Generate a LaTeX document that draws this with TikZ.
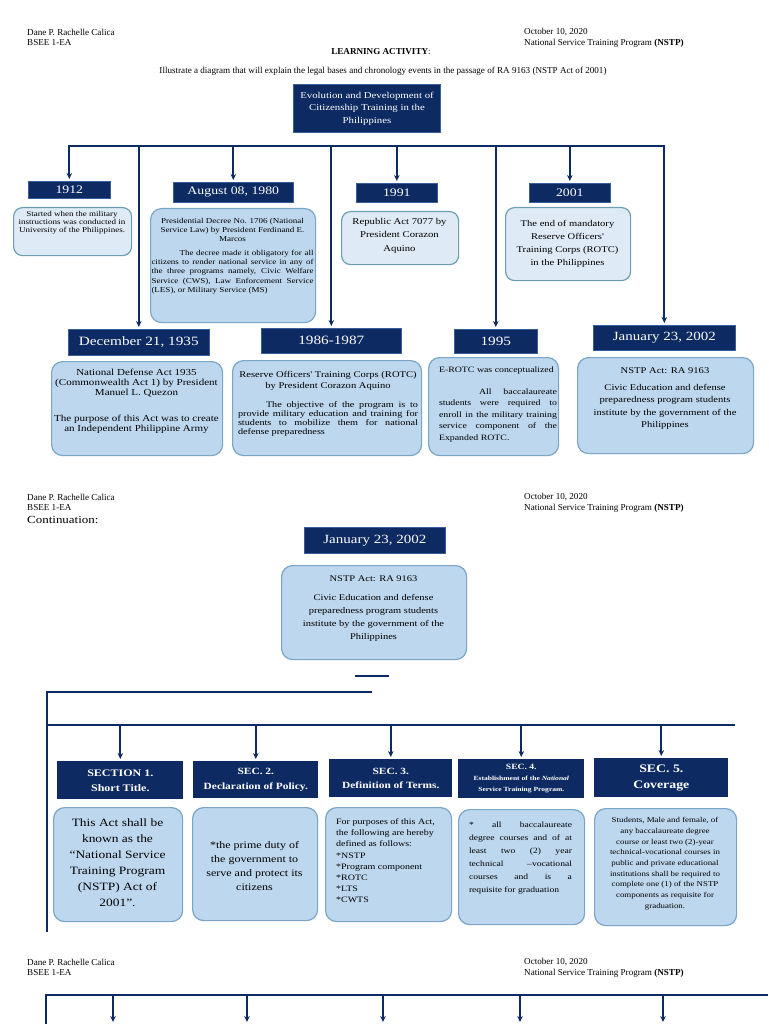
\documentclass[tikz,border=0pt]{standalone}
\usepackage{fontspec}
\setmainfont{Liberation Serif}
\newfontfamily\wide{Liberation Serif}[FakeStretch=1.2]
\usetikzlibrary{arrows.meta,calc}
\definecolor{navy}{HTML}{0E2A62}
\definecolor{navyb}{HTML}{3A5D9C}
\definecolor{fillA}{HTML}{BDD7EE}
\definecolor{fillB}{HTML}{DEEAF6}
\definecolor{bordA}{HTML}{7AA5C6}
\definecolor{bordB}{HTML}{6C9FB3}
\newcommand{\wfs}[2]{\wide\fontsize{#1}{#2}\selectfont}
\newcommand{\hfs}{\fontsize{9.1}{11}\selectfont}
\newcommand{\jline}[2]{\makebox[#1][s]{#2}}
\newcommand{\lline}[2]{\makebox[#1][l]{#2}}
\tikzset{
 lbl/.style={rectangle, fill=navy, draw=navyb, line width=0.6pt, text=white, inner sep=0pt, anchor=north west, align=center},
 boxA/.style={rectangle, rounded corners=11pt, fill=fillA, draw=bordA, line width=1.2pt, anchor=north west, inner sep=0pt},
 boxB/.style={rectangle, rounded corners=9pt, fill=fillB, draw=bordB, line width=1.2pt, anchor=north west, inner sep=0pt},
 txt/.style={inner sep=0pt, text=black, align=center},
 conn/.style={draw=navy, line width=1.8pt},
 arr/.style={conn, -{Stealth[length=6pt,width=5.5pt]}, shorten >=2pt},
 hdr/.style={inner sep=0pt, anchor=west, font=\hfs},
}
\begin{document}
\begin{tikzpicture}[x=1pt,y=-1pt]
\useasboundingbox (0,0) rectangle (768,1024);
\fill[white] (0,0) rectangle (768,1024);

% ---------------- page 1 ----------------
\node[hdr] (h1a) at (27,32) {Dane P. Rachelle Calica};
\node[hdr] (h1b) at (27,43) {BSEE 1-EA};
\node[hdr] (h1c) at (524,32) {October 10, 2020};
\node[hdr] (h1d) at (524,43) {National Service Training Program \textbf{(NSTP)}};
\node[inner sep=0pt, font=\hfs] (la) at (381,52) {\textbf{LEARNING ACTIVITY}:};
\node[inner sep=0pt, font=\hfs] (ill) at (383,71) {Illustrate a diagram that will explain the legal bases and chronology events in the passage of RA 9163 (NSTP Act of 2001)};

\node[lbl, line width=1pt, minimum width=147pt, minimum height=48pt, font=\wfs{9}{12.5}] (title) at (293,84) {Evolution and Development of\\Citizenship Training in the\\Philippines};

% labels row 1
\node[lbl, minimum width=82pt, minimum height=17pt, font=\wfs{11.5}{13}] (l1912) at (28,181) {1912};
\node[lbl, minimum width=120pt, minimum height=20pt, font=\wfs{11.5}{13}] (lAug) at (173,182) {August 08, 1980};
\node[lbl, minimum width=81pt, minimum height=19pt, font=\wfs{11.5}{13}] (l1991) at (356,183) {1991};
\node[lbl, minimum width=81pt, minimum height=19pt, font=\wfs{11.5}{13}] (l2001) at (529,183) {2001};
% labels row 2
\node[lbl, minimum width=141pt, minimum height=26pt, font=\wfs{12.7}{14}] (lDec) at (68,329) {December 21, 1935};
\node[lbl, minimum width=140pt, minimum height=25pt, font=\wfs{12.7}{14}] (l1986) at (261,328) {1986-1987};
\node[lbl, minimum width=83pt, minimum height=24pt, font=\wfs{12.7}{14}] (l1995) at (454,329) {1995};
\node[lbl, minimum width=142pt, minimum height=25pt, font=\wfs{12.5}{14}] (lJan) at (593,325) {January 23, 2002};

% connectors page 1
\coordinate (barL) at (68,146);
\draw[conn, {Stealth[length=6pt,width=5.5pt]}-{Stealth[length=6pt,width=5.5pt]}, shorten <=2pt, shorten >=2pt]
  (l1912.north) -- (l1912.north |- barL) -- (lJan.north |- barL) -- (lJan.north);
\draw[arr] (lAug.north |- barL) -- (lAug.north);
\draw[arr] (l1991.north |- barL) -- (l1991.north);
\draw[arr] (l2001.north |- barL) -- (l2001.north);
\draw[arr] (lDec.north |- barL) -- (lDec.north);
\draw[arr] (l1986.north |- barL) -- (l1986.north);
\draw[arr] (l1995.north |- barL) -- (l1995.north);

% content boxes row 1
\node[boxB, minimum width=118pt, minimum height=48pt] (c1912) at (13,207) {};
\node[txt, font=\wfs{7.5}{8.4}] (c1912t) at (72,222.7) {Started when the military\\instructions was conducted in\\University of the Philippines.};

\node[boxA, minimum width=165pt, minimum height=114pt] (cAug) at (150,208) {};
\node[txt, font=\wfs{7.5}{9.3}] (cAugt) at (232.5,256) {Presidential Decree No. 1706 (National\\Service Law) by President Ferdinand E.\\Marcos\\[4pt]
\jline{162pt}{\hspace*{28pt}The decree made it obligatory for all}\\
\jline{162pt}{citizens to render national service in any of}\\
\jline{162pt}{the three programs namely, Civic Welfare}\\
\jline{162pt}{Service (CWS), Law Enforcement Service}\\
\lline{162pt}{(LES), or Military Service (MS)}};

\node[boxB, minimum width=117pt, minimum height=53pt] (c1991) at (341,211) {};
\node[txt, font=\wfs{8.9}{13.3}] (c1991t) at (399.5,235.7) {Republic Act 7077 by\\President Corazon\\Aquino};

\node[boxB, minimum width=125pt, minimum height=73pt] (c2001) at (505,207) {};
\node[txt, font=\wfs{8.8}{13.1}] (c2001t) at (567.5,243.7) {The end of mandatory\\Reserve Officers'\\Training Corps (ROTC)\\in the Philippines};

% content boxes row 2
\node[boxA, minimum width=171pt, minimum height=94pt] (cDec) at (51,361) {};
\node[txt, font=\wfs{9.2}{10}] (cDect) at (136.5,401.3) {National Defense Act 1935\\(Commonwealth Act 1) by President\\Manuel L. Quezon\\[16.6pt]The purpose of this Act was to create\\an Independent Philippine Army};

\node[boxA, minimum width=189pt, minimum height=95pt] (c1986) at (232,360) {};
\node[txt, font=\wfs{8.5}{9.2}] (c1986t) at (328,403.7) {{\wfs{8.8}{9.2}Reserve Officers' Training Corps (ROTC)}\\[2.5pt]{\wfs{8.8}{9.2}by President Corazon Aquino}\\[9pt]
\jline{180pt}{\hspace*{28pt}The objective of the program is to}\\
\jline{180pt}{provide military education and training for}\\
\jline{180pt}{students to mobilize them for national}\\
\lline{180pt}{defense preparedness}};

\node[boxA, minimum width=130pt, minimum height=98pt] (c1995) at (428,357) {};
\node[txt, font=\wfs{8.2}{11.5}] (c1995t) at (498,404.5) {\lline{118pt}{E-ROTC was conceptualized}\\[9.8pt]
\jline{118pt}{\hspace*{40pt}All baccalaureate}\\
\jline{118pt}{students were required to}\\
\jline{118pt}{enroll in the military training}\\
\jline{118pt}{service component of the}\\
\lline{118pt}{Expanded ROTC.}};

\node[boxA, minimum width=176pt, minimum height=96pt] (cJan) at (577,357) {};
\node[txt, font=\wfs{8.8}{12.6}] (cJant) at (665,398.5) {NSTP Act: RA 9163\\[4.5pt]Civic Education and defense\\preparedness program students\\institute by the government of the\\Philippines};

% ---------------- page 2 ----------------
\node[hdr] (h2a) at (27,497) {Dane P. Rachelle Calica};
\node[hdr] (h2b) at (27,508) {BSEE 1-EA};
\node[hdr] (h2c) at (524,497) {October 10, 2020};
\node[hdr] (h2d) at (524,508) {National Service Training Program \textbf{(NSTP)}};
\node[inner sep=0pt, anchor=west, font=\wfs{10.8}{12}] (cont) at (27,520) {Continuation:};

\node[lbl, minimum width=141pt, minimum height=26pt, font=\wfs{12.5}{14}] (lJan2) at (304,527) {January 23, 2002};
\node[boxA, minimum width=185pt, minimum height=94pt] (cJan2) at (281,565) {};
\node[txt, font=\wfs{8.7}{13}] (cJan2t) at (373.5,608.3) {NSTP Act: RA 9163\\[6pt]Civic Education and defense\\preparedness program students\\institute by the government of the\\Philippines};

\coordinate (dashL) at (355,676);
\coordinate (dashR) at (389,676);
\draw[conn] (dashL) -- (dashR);

\coordinate (topR) at (372,692);
\coordinate (topL) at (47,692);
\coordinate (leftB) at (47,932);
\coordinate (bar2L) at (47,725);
\coordinate (bar2R) at (735,725);
\draw[conn] (topR) -- (topL) -- (leftB);
\draw[conn] (bar2L) -- (bar2R);

% section labels
\node[lbl, draw=none, minimum width=126pt, minimum height=38pt, font=\wfs{10}{15}\bfseries] (s1) at (57,761) {SECTION 1.\\Short Title.};
\node[lbl, draw=none, minimum width=125pt, minimum height=37pt, font=\wfs{9.5}{14.5}\bfseries] (s2) at (193,761) {SEC. 2.\\Declaration of Policy.};
\node[lbl, draw=none, minimum width=123pt, minimum height=38pt, font=\wfs{9.5}{14.5}\bfseries] (s3) at (329,759) {SEC. 3.\\Definition of Terms.};
\node[lbl, draw=none, minimum width=126pt, minimum height=39pt, font=\wfs{6.3}{11}\bfseries] (s4) at (458,759) {{\fontsize{8}{11}\selectfont SEC. 4.}\\Establishment of the \textit{National}\\Service Training Program.};
\node[lbl, draw=none, minimum width=134pt, minimum height=39pt, font=\wfs{11.5}{15.5}\bfseries] (s5) at (594,758) {SEC. 5.\\Coverage};

\draw[arr] (s1.north |- bar2L) -- (s1.north);
\draw[arr] (s2.north |- bar2L) -- (s2.north);
\draw[arr] (s3.north |- bar2L) -- (s3.north);
\draw[arr] (s4.north |- bar2L) -- (s4.north);
\draw[arr] (s5.north |- bar2L) -- (s5.north);

% section contents
\node[boxA, minimum width=129pt, minimum height=114pt] (t1) at (53,807) {};
\node[txt, font=\wfs{11.2}{15.9}] (t1t) at (117.5,862.7) {This Act shall be\\known as the\\“National Service\\Training Program\\(NSTP) Act of\\2001”.};

\node[boxA, minimum width=125pt, minimum height=113pt] (t2) at (192,807) {};
\node[txt, font=\wfs{10}{14}] (t2t) at (254.5,866) {*the prime duty of\\the government to\\serve and protect its\\citizens};

\node[boxA, minimum width=126pt, minimum height=114pt] (t3) at (325,807) {};
\node[txt, align=left, anchor=west, font=\wfs{8.3}{11.2}] (t3t) at (336,860.8) {For purposes of this Act,\\the following are hereby\\defined as follows:\\*NSTP\\*Program component\\*ROTC\\*LTS\\*CWTS};

\node[boxA, minimum width=126pt, minimum height=115pt] (t4) at (458,809) {};
\node[txt, font=\wfs{8}{13}] (t4t) at (520.5,858.2) {\jline{103pt}{* all baccalaureate}\\
\jline{103pt}{degree courses and of at}\\
\jline{103pt}{least two (2) year}\\
\jline{103pt}{technical –vocational}\\
\jline{103pt}{courses and is a}\\
\lline{103pt}{requisite for graduation}};

\node[boxA, minimum width=142pt, minimum height=117pt] (t5) at (594,808) {};
\node[txt, font=\wfs{7.4}{10.7}] (t5t) at (665,863.7) {Students, Male and female, of\\any baccalaureate degree\\course or least two (2)-year\\technical-vocational courses in\\public and private educational\\institutions shall be required to\\complete one (1) of the NSTP\\components as requisite for\\graduation.};

% ---------------- page 3 ----------------
\node[hdr] (h3a) at (27,962) {Dane P. Rachelle Calica};
\node[hdr] (h3b) at (27,973) {BSEE 1-EA};
\node[hdr] (h3c) at (524,962) {October 10, 2020};
\node[hdr] (h3d) at (524,973) {National Service Training Program \textbf{(NSTP)}};

\coordinate (b3R) at (768,995);
\coordinate (b3L) at (46,995);
\coordinate (b3B) at (46,1026);
\draw[conn] (b3R) -- (b3L) -- (b3B);
\foreach \i/\x in {1/113,2/247,3/383,4/520,5/663}{
  \coordinate (p3top\i) at (\x,995);
  \coordinate (p3end\i) at (\x,1022);
  \draw[arr, shorten >=0pt] (p3top\i) -- (p3end\i);
}
\end{tikzpicture}
\end{document}
